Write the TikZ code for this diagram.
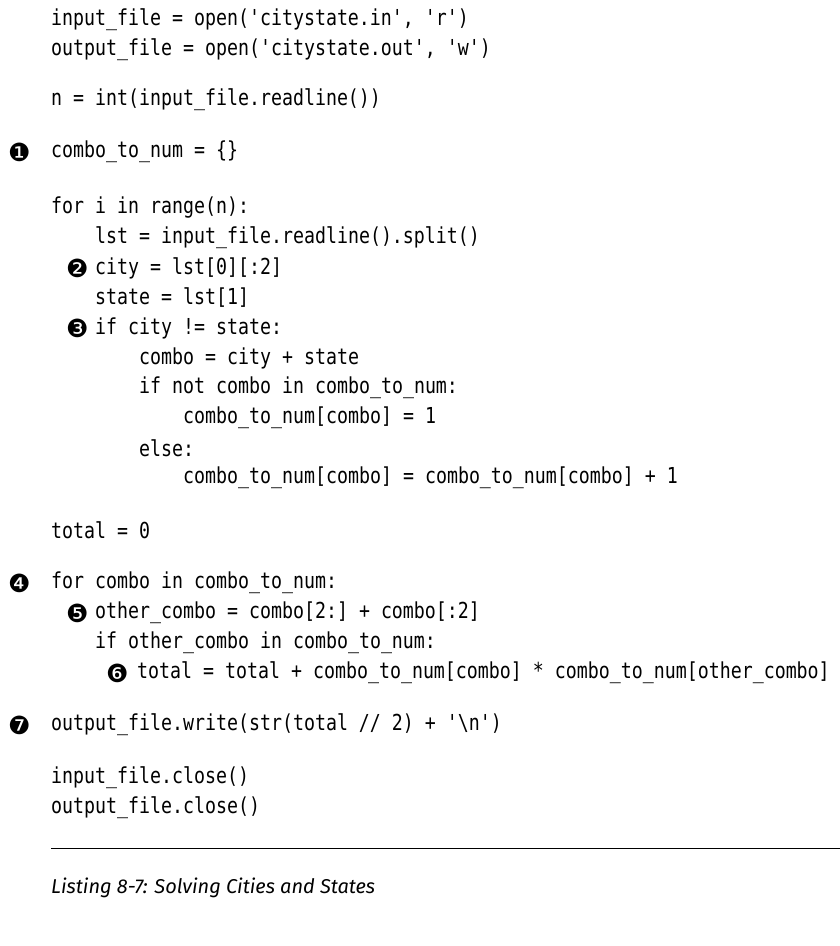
\documentclass[tikz,border=0pt]{standalone}
\usepackage{fontspec}
\setmonofont{DejaVu Sans Mono}[FakeStretch=0.83]
\newfontfamily\bulletfont{DejaVu Sans}
\newfontfamily\capfont{Fira Sans}
\begin{document}
\begin{tikzpicture}[x=1pt,y=1pt,
  codeline/.style={anchor=west,inner sep=0pt,font=\ttfamily\fontsize{22}{24}\selectfont},
  bul/.style={anchor=west,inner sep=0pt,font=\bulletfont\fontsize{25}{26}\selectfont},
  captext/.style={anchor=west,inner sep=0pt,font=\capfont\itshape\fontsize{20}{22}\selectfont}]
\useasboundingbox (0,0) rectangle (840,-946);
\node[codeline] (l1) at (51,-20) {input\_file = open('citystate.in', 'r')};
\node[codeline] (l2) at (51,-50) {output\_file = open('citystate.out', 'w')};
\node[codeline] (l3) at (51,-100) {n = int(input\_file.readline())};
\node[bul] (b1) at (8,-152) {❶};
\node[codeline] (l4) at (51,-152) {combo\_to\_num = \{\}};
\node[codeline] (l5) at (51,-208) {for i in range(n):};
\node[codeline] (l6) at (95,-238) {lst = input\_file.readline().split()};
\node[bul] (b2) at (66,-268) {❷};
\node[codeline] (l7) at (95,-268) {city = lst[0][:2]};
\node[codeline] (l8) at (95,-298) {state = lst[1]};
\node[bul] (b3) at (66,-328) {❸};
\node[codeline] (l9) at (95,-328) {if city != state:};
\node[codeline] (l10) at (139,-358) {combo = city + state};
\node[codeline] (l11) at (139,-388) {if not combo in combo\_to\_num:};
\node[codeline] (l12) at (183,-418) {combo\_to\_num[combo] = 1};
\node[codeline] (l13) at (139,-448) {else:};
\node[codeline] (l14) at (183,-478) {combo\_to\_num[combo] = combo\_to\_num[combo] + 1};
\node[codeline] (l15) at (51,-530) {total = 0};
\node[bul] (b4) at (8,-583) {❹};
\node[codeline] (l16) at (51,-583) {for combo in combo\_to\_num:};
\node[bul] (b5) at (66,-613) {❺};
\node[codeline] (l17) at (95,-613) {other\_combo = combo[2:] + combo[:2]};
\node[codeline] (l18) at (95,-643) {if other\_combo in combo\_to\_num:};
\node[bul] (b6) at (106,-673) {❻};
\node[codeline] (l19) at (137,-673) {total = total + combo\_to\_num[combo] * combo\_to\_num[other\_combo]};
\node[bul] (b7) at (8,-725) {❼};
\node[codeline] (l20) at (51,-725) {output\_file.write(str(total // 2) + '\textbackslash n')};
\node[codeline] (l21) at (51,-778) {input\_file.close()};
\node[codeline] (l22) at (51,-808) {output\_file.close()};
\coordinate (r1) at (51,-848);
\coordinate (r2) at (840,-848);
\draw[line width=0.8pt] (r1) -- (r2);
\node[captext] (cap) at (51,-888) {Listing 8-7: Solving Cities and States};
\end{tikzpicture}
\end{document}
